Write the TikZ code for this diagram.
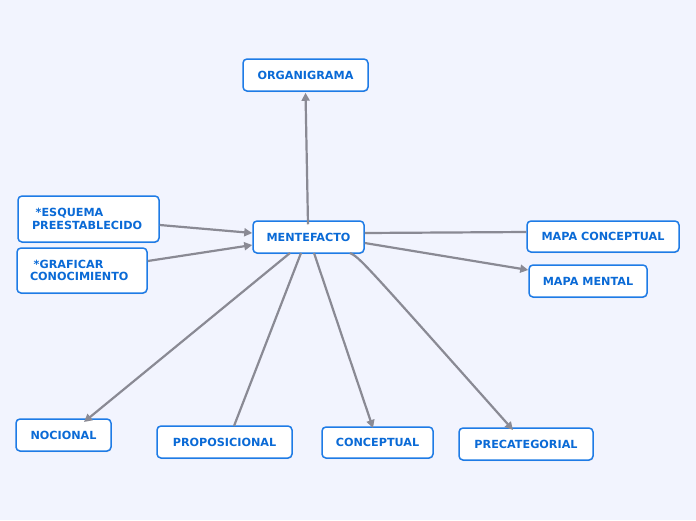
\documentclass[tikz,border=0pt]{standalone}
\usepackage{fontspec}
\setmainfont{DejaVu Sans}
\usetikzlibrary{arrows.meta,shadows}
\definecolor{bg}{HTML}{F2F4FE}
\definecolor{bd}{HTML}{1E7BE6}
\definecolor{tx}{HTML}{0A6AD6}
\definecolor{ln}{HTML}{8A8A94}
\begin{document}
\begin{tikzpicture}[x=1pt,y=-1pt,
 box/.style={draw=bd,line width=1.5pt,fill=white,rounded corners=4pt,font=\bfseries\fontsize{11.2}{12.5}\selectfont,text=tx,align=left,inner sep=0pt,drop shadow={shadow xshift=0.5pt,shadow yshift=-1pt,opacity=0.25}},
 con/.style={draw=ln,line width=2.2pt},
 arr/.style={con,-{Triangle[length=8pt,width=8pt]}}]
\fill[bg] (0,0) rectangle (696,520);
\useasboundingbox (0,0) rectangle (696,520);
\node[box,minimum width=125pt,minimum height=32pt] (org) at (305.5,75) {ORGANIGRAMA};
\node[box,minimum width=111pt,minimum height=32pt] (men) at (308.5,237) {MENTEFACTO};
\node[box,minimum width=141pt,minimum height=46pt,text width=113pt] (esq) at (88.5,219) {\ *ESQUEMA\\PREESTABLECIDO};
\node[box,minimum width=130pt,minimum height=45pt,text width=104pt] (gra) at (82,270.5) {\ *GRAFICAR\\CONOCIMIENTO};
\node[box,minimum width=152pt,minimum height=31pt] (mc) at (603,236.5) {MAPA CONCEPTUAL};
\node[box,minimum width=118pt,minimum height=32pt] (mm) at (588,281) {MAPA MENTAL};
\node[box,minimum width=95pt,minimum height=32pt] (noc) at (63.5,435) {NOCIONAL};
\node[box,minimum width=135pt,minimum height=32pt] (pro) at (224.5,442) {PROPOSICIONAL};
\node[box,minimum width=111pt,minimum height=31pt] (con) at (377.5,442.5) {CONCEPTUAL};
\node[box,minimum width=134pt,minimum height=32pt] (pre) at (526,444) {PRECATEGORIAL};
\draw[arr] ([xshift=-0.5pt,yshift=-4pt]men.north) -- ([yshift=-1pt]org.south);
\draw[arr] (esq.east|-0,225) -- (men.west|-0,233);
\draw[arr] (gra.east|-0,261) -- (men.west|-0,245);
\draw[con] (men.east|-0,233) -- (mc.west|-0,232);
\draw[arr] (men.east|-0,243) -- (mm.west|-0,270);
\draw[arr] (290,253) -- (84,422);
\draw[con] (301,253) -- (234,426);
\draw[arr] (314,253) -- (373,428);
\draw[arr] (350,253) .. controls (360,258) .. (513,430);
\end{tikzpicture}
\end{document}
